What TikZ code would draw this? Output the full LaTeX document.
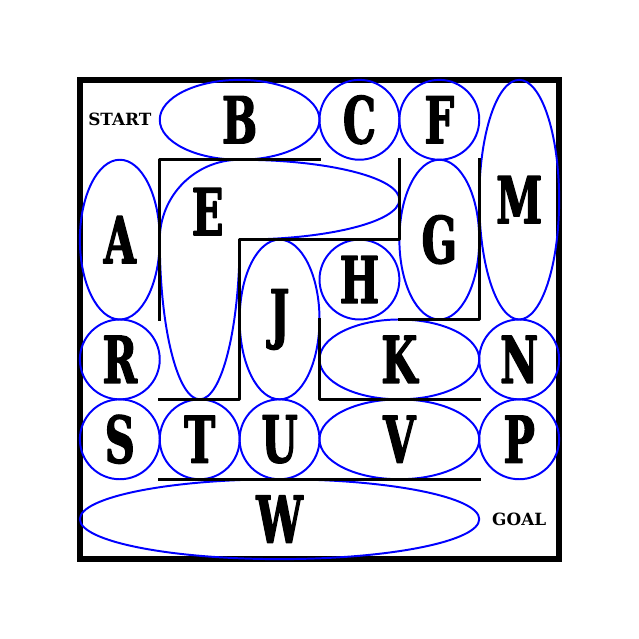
\documentclass[tikz,border=0pt]{standalone}
\usepackage{fontspec}
\newfontfamily\mazefont{DejaVu Serif}[FakeStretch=0.64, FakeBold=2]
\newfontfamily\tagfont{DejaVu Serif}
\usetikzlibrary{shapes.geometric}
\tikzset{
room/.style={draw=blue, line width=0.7pt, ellipse, inner sep=0pt,
  font=\mazefont\bfseries\fontsize{23}{25}\selectfont},
wall/.style={line width=1.1pt, line cap=rect},
tag/.style={font=\tagfont\bfseries\fontsize{6}{7}\selectfont}
}
\newcommand \myroom[5]
{
\node[room, minimum width=#3cm, minimum height=#4cm] (r#5) at (#1,#2) {#5};
}

\begin{document}
\begin{tikzpicture}[line join=round]
\useasboundingbox (-1,-1) rectangle (7,7);
\draw[line width=2pt, line join=miter] (0,0) rectangle (6,6);
% rooms
\myroom{2}{5.5}{2}{1}{B}
\myroom{3.5}{5.5}{1}{1}{C}
\myroom{4.5}{5.5}{1}{1}{F}
\myroom{5.5}{4.5}{1}{3}{M}
\myroom{0.5}{4}{1}{2}{A}
\myroom{4.5}{4}{1}{2}{G}
\myroom{3.5}{3.5}{1}{1}{H}
\myroom{2.5}{3}{1}{2}{J}
\myroom{4}{2.5}{2}{1}{K}
\myroom{0.5}{2.5}{1}{1}{R}
\myroom{5.5}{2.5}{1}{1}{N}
\myroom{0.5}{1.5}{1}{1}{S}
\myroom{1.5}{1.5}{1}{1}{T}
\myroom{2.5}{1.5}{1}{1}{U}
\myroom{4}{1.5}{2}{1}{V}
\myroom{5.5}{1.5}{1}{1}{P}
\myroom{2.5}{0.5}{5}{1}{W}
% the bent room
\draw[blue, line width=0.7pt] (1,4) arc[start angle=180, end angle=90, radius=1]
  arc[start angle=90, end angle=0, x radius=2, y radius=0.5]
  arc[start angle=0, end angle=-90, x radius=2, y radius=0.5]
  arc[start angle=0, end angle=-90, x radius=0.5, y radius=2]
  arc[start angle=-90, end angle=-180, x radius=0.5, y radius=2] -- cycle;
\node[room, draw=none] (rE) at (1.6,4.35) {E};
% walls
\draw[wall] (3,5)--(1,5)--(1,3);
\draw[wall] (4,5)--(4,4)--(2,4)--(2,2)--(1,2);
\draw[wall] (5,5)--(5,3)--(4,3);
\draw[wall] (3,3)--(3,2)--(5,2);
\draw[wall] (1,1)--(5,1);
% ends
\node[tag] (start) at (0.5,5.5) {START};
\node[tag] (goal)  at (5.5,0.5) {GOAL};
\end{tikzpicture}
\end{document}
